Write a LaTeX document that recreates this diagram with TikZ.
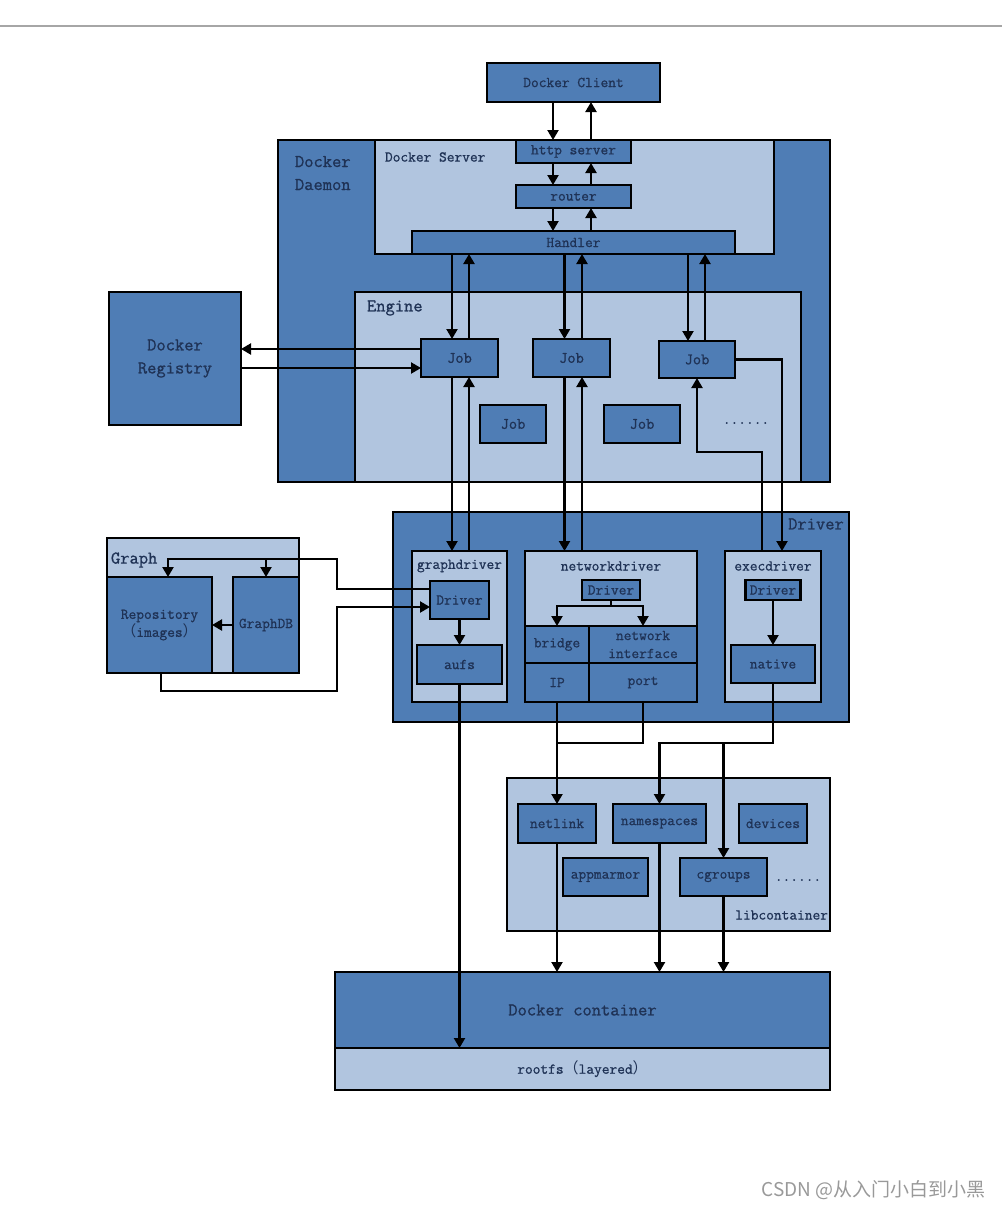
\documentclass[tikz,border=0pt]{standalone}
\usepackage{fontspec}
\newfontfamily\cjkfont{Noto Sans CJK SC}
\newfontfamily\dmono[FakeBold=0.9]{Latin Modern Mono}
\usetikzlibrary{arrows.meta}
\definecolor{dkblue}{HTML}{4F7DB5}
\definecolor{ltblue}{HTML}{B1C5DF}
\definecolor{txtc}{HTML}{1F3255}
\begin{document}
\begin{tikzpicture}[x=1pt,y=-1pt,
 base/.style={rectangle, draw=black, line width=2.5pt, inner sep=0pt, outer sep=0pt, text=txtc, align=center},
 dk/.style={base, fill=dkblue},
 lt/.style={base, fill=ltblue},
 fs/.style={font=\fontsize{15}{18}\selectfont\dmono},
 fj/.style={font=\fontsize{16}{18}\selectfont\dmono},
 fl/.style={font=\fontsize{18}{23}\selectfont\dmono},
 lbl/.style={inner sep=0pt, outer sep=0pt, text=txtc},
 con/.style={line width=2.2pt, draw=black},
 ar/.style={con, -{Triangle[length=10pt,width=11pt]}}]
\useasboundingbox (0,0) rectangle (1002,1210);
\draw[line width=2pt, color=black!35] (0,26) -- (1002,26);

% ---------- Docker client / daemon ----------
\node[dk, fs, minimum width=173pt, minimum height=39pt] (client) at (573.5,82.5) {Docker Client};
\node[dk, minimum width=552pt, minimum height=342pt] (daemon) at (554,311) {};
\node[lt, minimum width=399pt, minimum height=114pt] (server) at (574.5,197) {};
\node[lt, minimum width=446pt, minimum height=190pt] (engine) at (578,387) {};
\node[lbl, fl, anchor=north west, align=left] (daemonlbl) at (295,156) {Docker\\Daemon};
\node[lbl, fs, anchor=west] (serverlbl) at (385,157) {Docker Server};
\node[lbl, fl, anchor=west] (enginelbl) at (367,308) {Engine};
\node[dk, fs, minimum width=115pt, minimum height=23pt] (http) at (573.5,151.5) {http server};
\node[dk, fs, minimum width=115pt, minimum height=23pt] (router) at (573.5,196.5) {router};
\node[dk, fs, minimum width=323pt, minimum height=23pt] (handler) at (573.5,242.5) {Handler};
\node[dk, fj, minimum width=77pt, minimum height=38pt] (job1) at (459.5,358) {Job};
\node[dk, fj, minimum width=77pt, minimum height=38pt] (job2) at (571.5,358) {Job};
\node[dk, fj, minimum width=76pt, minimum height=37pt] (job3) at (697,359.5) {Job};
\node[dk, fj, minimum width=66pt, minimum height=38pt] (job4) at (513,424) {Job};
\node[dk, fj, minimum width=76pt, minimum height=38pt] (job5) at (642,424) {Job};
\node[lbl, fs] (dots1) at (746,423) {\textbf{......}};
\node[dk, fl, minimum width=132pt, minimum height=133pt] (registry) at (175,358.5) {Docker\\Registry};

% ---------- Driver ----------
\node[dk, minimum width=456pt, minimum height=210pt] (driver) at (621,617) {};
\node[lbl, fl] (driverlbl) at (816,524) {Driver};
\node[lt, minimum width=95pt, minimum height=151pt] (gdriver) at (459.5,626.5) {};
\node[lbl, fs] (gdriverlbl) at (459.5,566) {graphdriver};
\node[dk, fs, minimum width=59pt, minimum height=38pt] (gdrv) at (459.5,600) {Driver};
\node[dk, fs, minimum width=85pt, minimum height=39pt] (aufs) at (459.5,664.5) {aufs};
\node[lt, minimum width=172pt, minimum height=151pt] (ndriver) at (611,626.5) {};
\node[lbl, fs] (ndriverlbl) at (611,566) {networkdriver};
\node[dk, fs, minimum width=58pt, minimum height=20pt] (ndrv) at (611,590) {Driver};
\node[dk, fs, minimum width=64pt, minimum height=37pt] (bridge) at (557,644.5) {bridge};
\node[dk, fs, minimum width=108pt, minimum height=37pt] (netif) at (643,644.5) {network\\interface};
\node[dk, fs, minimum width=64pt, minimum height=39pt] (ip) at (557,682.5) {IP};
\node[dk, fs, minimum width=108pt, minimum height=39pt] (port) at (643,682.5) {port};
\node[lt, minimum width=96pt, minimum height=151pt] (edriver) at (773,626.5) {};
\node[lbl, fs] (edriverlbl) at (773,566) {execdriver};
\node[dk, fs, minimum width=55pt, minimum height=20pt] (edrv) at (773,590) {Driver};
\node[dk, fs, minimum width=84pt, minimum height=38pt] (native) at (773,664) {native};

% ---------- Graph ----------
\node[lt, minimum width=192pt, minimum height=135pt] (graph) at (203,605.5) {};
\node[lbl, fl, anchor=west] (graphlbl) at (111,560) {Graph};
\node[dk, fs, minimum width=105pt, minimum height=96pt] (repo) at (159.5,625) {Repository\\{\cjkfont （}images{\cjkfont ）}};
\node[dk, fs, minimum width=66pt, minimum height=96pt] (graphdb) at (266,625) {GraphDB};

% ---------- libcontainer ----------
\node[lt, minimum width=323pt, minimum height=153pt] (libc) at (668.5,854.5) {};
\node[lbl, fs, anchor=east] (libclbl) at (828,915) {libcontainer};
\node[dk, fs, minimum width=78pt, minimum height=39pt] (netlink) at (557,823.5) {netlink};
\node[dk, fs, minimum width=93pt, minimum height=39pt] (namespaces) at (659.5,823.5) {namespaces};
\node[dk, fs, minimum width=68pt, minimum height=39pt] (devices) at (773,823.5) {devices};
\node[dk, fs, minimum width=85pt, minimum height=38pt] (appmarmor) at (605.5,877) {appmarmor};
\node[dk, fs, minimum width=87pt, minimum height=38pt] (cgroups) at (723.5,877) {cgroups};
\node[lbl, fs] (dots2) at (798,880) {\textbf{......}};

% ---------- container ----------
\node[dk, fl, minimum width=495pt, minimum height=76pt] (container) at (582.5,1010) {Docker container};
\node[lt, fs, minimum width=495pt, minimum height=42pt] (rootfs) at (582.5,1069) {rootfs{\cjkfont （}layered{\cjkfont ）}};

% ---------- connectors ----------
\draw[ar] ([xshift=-20.5pt]client.south) -- ([xshift=-20.5pt]http.north);
\draw[ar] ([xshift=17.5pt]http.north) -- ([xshift=17.5pt]client.south);
\draw[ar] ([xshift=-20.5pt]http.south) -- ([xshift=-20.5pt]router.north);
\draw[ar] ([xshift=17.5pt]router.north) -- ([xshift=17.5pt]http.south);
\draw[ar] ([xshift=-20.5pt]router.south) -- ([xshift=-20.5pt]handler.north);
\draw[ar] ([xshift=17.5pt]handler.north) -- ([xshift=17.5pt]router.south);

\coordinate (j1d) at ([xshift=-7.5pt]job1.north);
\coordinate (j1u) at ([xshift=9.5pt]job1.north);
\coordinate (j2d) at ([xshift=-7pt]job2.north);
\coordinate (j2u) at ([xshift=10.5pt]job2.north);
\coordinate (j3d) at ([xshift=-9pt]job3.north);
\coordinate (j3u) at ([xshift=8pt]job3.north);
\draw[ar] (j1d |- handler.south) -- (j1d);
\draw[ar] (j1u) -- (j1u |- handler.south);
\draw[ar] (j2d |- handler.south) -- (j2d);
\draw[ar] (j2u) -- (j2u |- handler.south);
\draw[ar] (j3d |- handler.south) -- (j3d);
\draw[ar] (j3u) -- (j3u |- handler.south);

\coordinate (r1) at ([yshift=9pt]job1.west);
\coordinate (r2) at ([yshift=-10pt]job1.west);
\draw[ar] (r1) -- (r1 -| registry.east);
\draw[ar] (r2 -| registry.east) -- (r2);

\coordinate (j1ds) at ([xshift=-7.5pt]job1.south);
\coordinate (j1us) at ([xshift=9.5pt]job1.south);
\coordinate (j2ds) at ([xshift=-7pt]job2.south);
\coordinate (j2us) at ([xshift=10.5pt]job2.south);
\draw[ar] (j1ds) -- (j1ds |- gdriver.north);
\draw[ar] (j1us |- gdriver.north) -- (j1us);
\draw[ar] (j2ds) -- (j2ds |- ndriver.north);
\draw[ar] (j2us |- ndriver.north) -- (j2us);
\draw[ar] (job3.east) -| ([xshift=9pt]edriver.north);
\draw[ar] ([xshift=-11pt]edriver.north) -- ++(0,-99) -| (job3.south);

\coordinate (g1) at (337,559);
\draw[ar] ([yshift=11pt]gdrv.west) -| (g1) -| ([xshift=8.5pt]repo.north);
\draw[ar] (graphdb.north |- g1) -- (graphdb.north);
\draw[ar] ([xshift=1.5pt]repo.south) -- ++(0,18) -| (337,607) -- ([yshift=-7pt]gdrv.west);
\draw[ar] (graphdb.west) -- (repo.east);

\draw[ar] (gdrv.south) -- (aufs.north);
\draw[ar] (ndrv.south) -- ++(0,6) -| (bridge.north);
\draw[ar] (ndrv.south) -- ++(0,6) -| (netif.north);
\draw[ar] (edrv.south) -- (native.north);

\draw[ar] (aufs.south) -- (aufs.south |- rootfs.north);
\coordinate (m1) at (557,743);
\draw[ar] (ip.south) -- (netlink.north);
\draw[con] (port.south) |- (m1);
\draw[ar] (native.south) -- ++(0,60) -| (namespaces.north);
\draw[ar] (cgroups.north |- m1) -- (cgroups.north);
\draw[ar] (netlink.south) -- (netlink.south |- container.north);
\draw[ar] (namespaces.south) -- (namespaces.south |- container.north);
\draw[ar] (cgroups.south) -- (cgroups.south |- container.north);

% ---------- watermark ----------
\node[anchor=east, inner sep=0pt, text=black!40, font=\cjkfont\fontsize{19}{21}\selectfont] (wm) at (986,1190) {CSDN @从入门小白到小黑};
\end{tikzpicture}
\end{document}
